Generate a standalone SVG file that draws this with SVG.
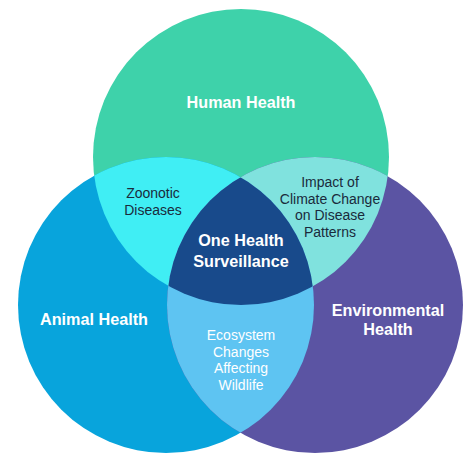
<svg xmlns="http://www.w3.org/2000/svg" width="474" height="474" viewBox="0 0 474 474">
<style>
.t{font-family:"Liberation Sans","Arial",sans-serif;text-anchor:middle}
.b{font-weight:700;fill:#ffffff;font-size:16.2px}
.s{font-weight:400;font-size:14px}
.d{fill:#1a2b3c}
.w{fill:#ffffff}
</style>
<defs>
<clipPath id="cTop"><circle cx="241" cy="157" r="148"/></clipPath>
<clipPath id="cLeft"><circle cx="166" cy="305" r="148"/></clipPath>
</defs>
<rect width="474" height="474" fill="#ffffff"/>
<g id="human-health"><circle cx="241" cy="157" r="148" fill="#3ed2aa"/></g>
<g id="animal-health"><circle cx="166" cy="305" r="148" fill="#08a4dc"/></g>
<g id="environmental-health"><circle cx="315" cy="305" r="148" fill="#5b54a3"/></g>
<g id="zoonotic-diseases"><circle cx="166" cy="305" r="148" fill="#40eef4" clip-path="url(#cTop)"/></g>
<g id="climate-change"><circle cx="315" cy="305" r="148" fill="#80e2de" clip-path="url(#cTop)"/></g>
<g id="ecosystem-changes"><circle cx="315" cy="305" r="148" fill="#5ec4f2" clip-path="url(#cLeft)"/></g>
<g id="one-health" clip-path="url(#cTop)"><circle cx="315" cy="305" r="148" fill="#184a8b" clip-path="url(#cLeft)"/></g>
<g id="labels">
<text class="t b" x="241" y="108">Human Health</text>
<text class="t b" x="94" y="325">Animal Health</text>
<text class="t b" x="388" y="316">Environmental</text>
<text class="t b" x="388" y="334.5">Health</text>
<text class="t b" x="241" y="246">One Health</text>
<text class="t b" x="241" y="267">Surveillance</text>
<text class="t s d" x="153" y="198">Zoonotic</text>
<text class="t s d" x="153" y="215">Diseases</text>
<text class="t s d" x="330" y="187">Impact of</text>
<text class="t s d" x="330" y="203.5">Climate Change</text>
<text class="t s d" x="330" y="220">on Disease</text>
<text class="t s d" x="330" y="236.5">Patterns</text>
<text class="t s w" x="241" y="340">Ecosystem</text>
<text class="t s w" x="241" y="356.5">Changes</text>
<text class="t s w" x="241" y="373">Affecting</text>
<text class="t s w" x="241" y="389.5">Wildlife</text>
</g>
</svg>
